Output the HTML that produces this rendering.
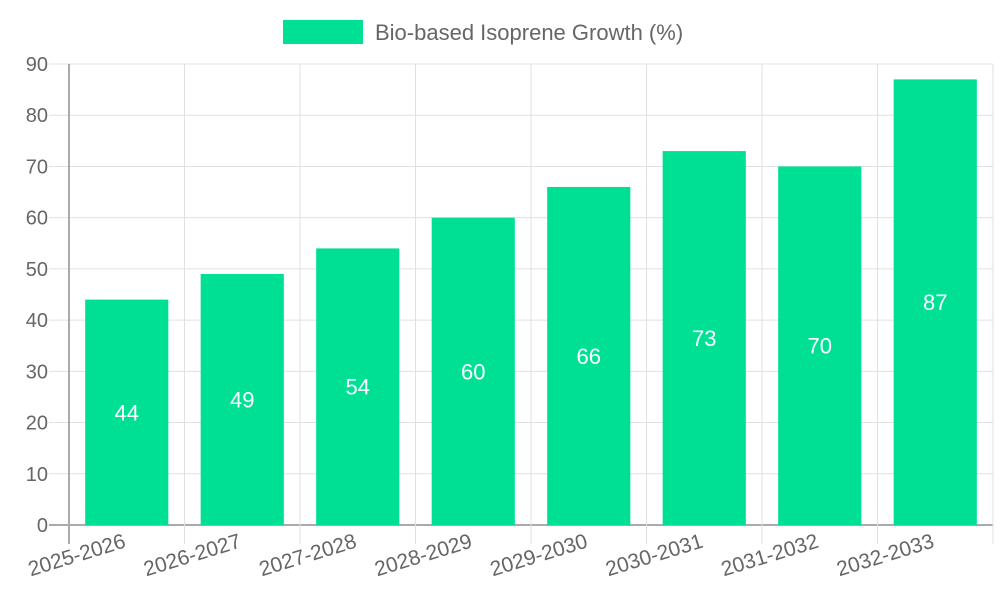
<!DOCTYPE html>
<html><head><meta charset="utf-8"><style>
body{margin:0;background:#fff;font-family:"Liberation Sans",sans-serif}
</style></head><body>
<svg id="chart" width="1000" height="600" xmlns="http://www.w3.org/2000/svg" font-family="Liberation Sans, sans-serif">
<g>
<rect x="283" y="20" width="80" height="24" fill="#00e094"/>
<text x="375" y="40" font-size="22" fill="#666">Bio-based Isoprene Growth (%)</text>
</g>
<g id="grid"></g><g id="bars"></g><g id="labels"></g>
</svg>
<script>
const categories=["2025-2026","2026-2027","2027-2028","2028-2029","2029-2030","2030-2031","2031-2032","2032-2033"];
const values=[44,49,54,60,66,73,70,87];
const yTicks=[0,10,20,30,40,50,60,70,80,90];
const NS="http://www.w3.org/2000/svg";
const L=69,R=993,T=64,B=525,yMax=90;
const y=v=>B-(B-T)*v/yMax;
const band=(R-L)/categories.length;
const x=i=>L+band*i;
function mk(tag,attrs,parent,text){const e=document.createElementNS(NS,tag);for(const k in attrs)e.setAttribute(k,attrs[k]);if(text!==undefined)e.textContent=text;parent.appendChild(e);return e;}
const grid=document.getElementById('grid'),bars=document.getElementById('bars'),labels=document.getElementById('labels');
yTicks.forEach(t=>{
  const l=mk('line',{x1:L-20,x2:R,y1:y(t),y2:y(t),stroke:t===0?'#aaa':'#e0e0e0','stroke-width':t===0?2:1},grid);
  
  
  const tx=mk('text',{x:L-21,y:y(t)+7,'text-anchor':'end','font-size':20,fill:'#666'},labels,String(t));
  
  
});
for(let i=0;i<=categories.length;i++){
  const l=mk('line',{x1:x(i),x2:x(i),y1:T,y2:B+19,stroke:i===0?'#aaa':'#e0e0e0','stroke-width':i===0?2:1},grid);
  
  
}
categories.forEach((c,i)=>{
  const cx=x(i)+band/2,w=band*0.72;
  const r=mk('rect',{x:cx-w/2,y:y(values[i]),width:w,height:B-y(values[i]),fill:'#00e094'},bars);
  
  
  const v=mk('text',{x:cx,y:(y(values[i])+B)/2+8,'text-anchor':'middle','font-size':22,fill:'#fff'},labels,String(values[i]));
  
  
  const t=mk('text',{x:cx,y:B+22,'text-anchor':'end','font-size':21,fill:'#666',transform:`rotate(-17 ${cx} ${B+22})`},labels,c);
  
  
});
</script>
</body></html>
